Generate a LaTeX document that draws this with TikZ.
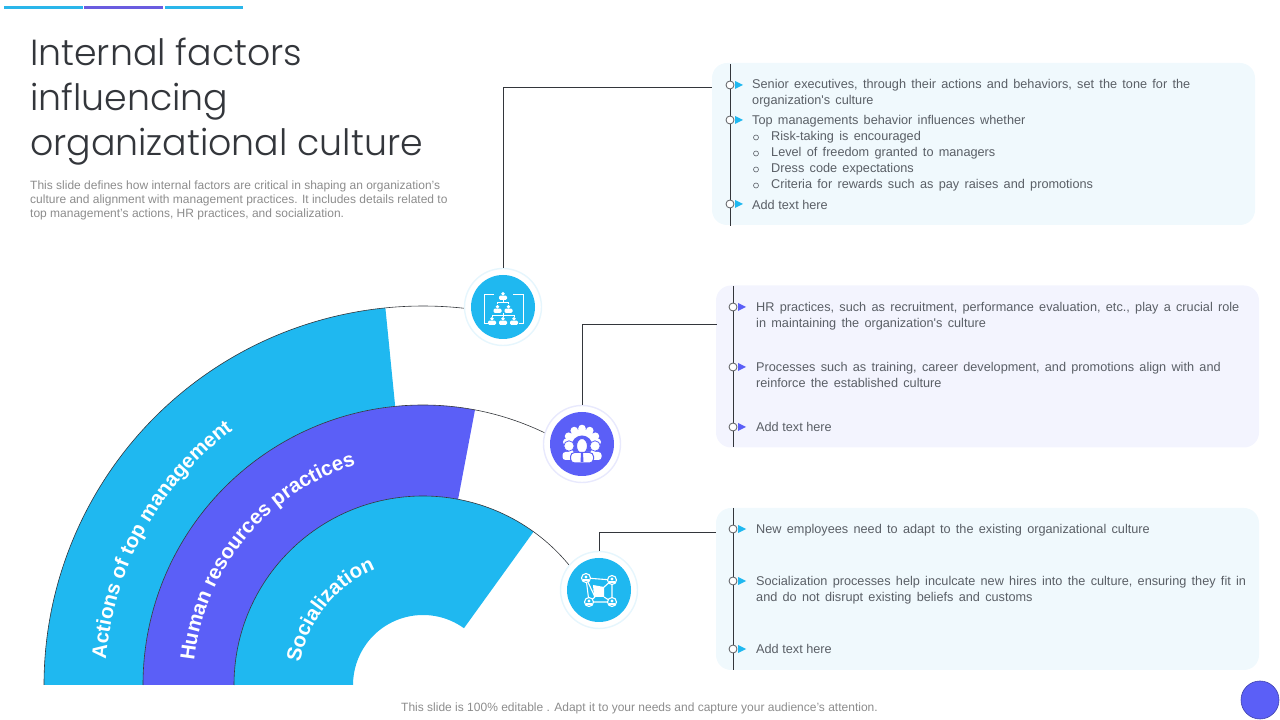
\documentclass[tikz,border=0pt]{standalone}
\usepackage{fontspec}
\setmainfont{Liberation Sans}
\newfontfamily\titlefont{Poppins Light}
\newfontfamily\bodyfont[WordSpace=1.5]{Liberation Sans}
\usetikzlibrary{decorations.text}
\definecolor{skyc}{HTML}{1FB8F0}
\definecolor{violc}{HTML}{5B5FF7}
\definecolor{stripA}{HTML}{2AB6EA}
\definecolor{stripB}{HTML}{6A5CE0}
\definecolor{panelA}{HTML}{F0F9FD}
\definecolor{panelB}{HTML}{F3F4FE}
\definecolor{haloA}{HTML}{E6F6FD}
\definecolor{haloB}{HTML}{E8E9FD}
\definecolor{inkc}{HTML}{33363B}
\definecolor{bodyc}{HTML}{5A5F66}
\definecolor{noteGrey}{HTML}{8C8C8C}
\tikzset{
  panel/.style={draw=none,rounded corners=15pt,inner sep=0pt,minimum height=162pt,minimum width=543pt},
  hub/.style={shape=circle,inner sep=0pt,minimum size=77pt,draw=#1,line width=1.4pt,fill=white},
  disc/.style={shape=circle,inner sep=0pt,minimum size=64pt,fill=#1},
  wire/.style={draw=inkc,line width=0.8pt},
  rim/.style={draw=inkc,line width=0.6pt},
  txt/.style={anchor=west,inner sep=0pt,align=left,text=bodyc,font=\bodyfont\fontsize{12.7}{16}\selectfont},
  addtxt/.style={anchor=west,inner sep=0pt,text=bodyc,font=\fontsize{12.7}{16}\selectfont},
  ringtxt/.style={decorate,decoration={text along path,text align=center,
    text={|\fontsize{20.5}{21}\selectfont\bfseries\color{white}|#1}}},
}
% head and shoulders of one small person
\newcommand{\manicon}[3]{
  \fill[white] (#1,#2+#3*0.55) circle (#3*0.45);
  \fill[white,rounded corners=1.4pt] (#1-#3,#2-#3) rectangle (#1+#3,#2+#3*0.1);
}
\newcommand{\stopmark}[3]{
  \draw[inkc!80,fill=white,line width=0.8pt] (#1,#2) circle (4);
  \fill[#3] (#1+5,#2+4) -- (#1+13,#2) -- (#1+5,#2-4) -- cycle;
}
\begin{document}
\begin{tikzpicture}[x=1pt,y=1pt]
  \useasboundingbox (0,0) rectangle (1280,720);
  \coordinate (O) at (423,35);

  % strip on top
  \fill[stripA] (4,711) rectangle (83,714);
  \fill[stripB] (84,711) rectangle (163,714);
  \fill[stripA] (165,711) rectangle (243,714);

  \node[anchor=west,inner sep=0pt,text=inkc,font=\titlefont\fontsize{36.3}{45}\selectfont,align=left] (TITLE) at (30,618.5) {Internal factors\\influencing\\organizational culture};
  \node[anchor=north west,inner sep=0pt,text=noteGrey,align=left,font=\fontsize{12}{14}\selectfont] (NOTE) at (30,539) {This slide defines how internal factors are critical in shaping an organization's\\culture and alignment with management practices. It includes details related to\\top management's actions, HR practices, and socialization.};
  \node[inner sep=0pt,text=noteGrey,font=\fontsize{12}{14}\selectfont] (FOOT) at (639.5,12) {This slide is 100\% editable . Adapt it to your needs and capture your audience's attention.};
  \node[shape=circle,minimum size=38pt,inner sep=0pt,fill=violc,draw=violc!70!black,line width=0.6pt] (DOT) at (1260,20) {};

  % the three rings
  \begin{scope}[shift={(O)}]
    \fill[skyc] (180:379) arc[start angle=180,end angle=95.7,radius=379] -- (95.7:280) arc[start angle=95.7,end angle=180,radius=280] -- cycle;
    \fill[violc] (180:280) arc[start angle=180,end angle=79.3,radius=280] -- (79.3:189) arc[start angle=79.3,end angle=180,radius=189] -- cycle;
    \fill[skyc] (180:189) arc[start angle=180,end angle=54.2,radius=189] -- (54.2:70) arc[start angle=54.2,end angle=180,radius=70] -- cycle;
    \path[ringtxt={Actions of top management}] (181:318) arc[start angle=181,end angle=121,radius=318];
    \path[ringtxt={Human resources practices}] (178.5:230) arc[start angle=178.5,end angle=102.5,radius=230];
    \path[ringtxt={Socialization}] (179:125) arc[start angle=179,end angle=103,radius=125];
    \draw[rim] (180:379) arc[start angle=180,end angle=83.6,radius=379];
    \draw[rim] (180:280) arc[start angle=180,end angle=64,radius=280];
    \draw[rim] (180:189) arc[start angle=180,end angle=39.5,radius=189];
  \end{scope}

  % panels
  \node[panel,fill=panelA] (BOXA) at (983.5,576) {};
  \node[panel,fill=panelB] (BOXB) at (987.5,353.5) {};
  \node[panel,fill=panelA] (BOXC) at (987.5,131) {};
  \coordinate (JA) at (712,633);
  \coordinate (JB) at (717,396);
  \coordinate (JC) at (716,188);

  % hubs
  \node[hub=haloA] (HA) at (503,413) {};
  \node[hub=haloB] (HB) at (582,276) {};
  \node[hub=haloA] (HC) at (599,130) {};
  \node[disc=skyc] (DA) at (HA) {};
  \node[disc=violc] (DB) at (HB) {};
  \node[disc=skyc] (DC) at (HC) {};

  \path[wire] (HA.north) |- (JA);
  \path[wire] (HB.north) |- (JB);
  \path[wire] (HC.north) |- (JC);

  % icon A
  \begin{scope}[shift={(HA)}]
    \manicon{0}{11}{4}
    \manicon{-5.5}{-2}{4}
    \manicon{5.5}{-2}{4}
    \manicon{-11}{-14}{4}
    \manicon{0}{-14}{4}
    \manicon{11}{-14}{4}
    \draw[white,line width=0.8pt] (0,7) -- (0,4.5) (-5.5,4.5) -- (5.5,4.5) (-5.5,4.5) -- (-5.5,2.5) (5.5,4.5) -- (5.5,2.5);
    \draw[white,line width=0.8pt] (0,-6) -- (0,-8) (-11,-8) -- (11,-8) (-11,-8) -- (-11,-10) (11,-8) -- (11,-10) (0,-8) -- (0,-10);
    \draw[white,line width=1pt] (-9,12) -- (-19,12) -- (-19,-17) -- (-15,-17);
    \draw[white,line width=1pt] (10,12) -- (20,12) -- (20,-17) -- (16,-17);
  \end{scope}
  % icon B
  \begin{scope}[shift={(HB)}]
    \fill[white] (0,0) circle (15);
    \foreach \aa in {30,60,...,150}{
      \fill[white] (\aa:15.5) circle (3.8);
    }
    \fill[white] (-15.5,2) circle (3.5);
    \fill[white] (15.5,2) circle (3.5);
    \fill[violc] (0,-2) circle (10.5);
    \draw[violc,fill=white,line width=0.8pt] (-13,-2) circle (5.2);
    \draw[violc,fill=white,line width=0.8pt] (13,-2) circle (5.2);
    \fill[white,rounded corners=3pt] (-19.5,-16) rectangle (19.5,-8);
    \draw[violc,fill=white,line width=1pt] (0,-2) ellipse (5.5 and 7.5);
    \draw[violc,fill=white,line width=1pt,rounded corners=4pt] (-11.5,-19) rectangle (11.5,-8.5);
    \fill[violc] (-1,-9) -- (1,-9) -- (1.5,-18) -- (-1.5,-18) -- cycle;
  \end{scope}
  % icon C
  \begin{scope}[shift={(HC)}]
    \draw[white,line width=1.1pt] (-13,12) -- (13,10) -- (13,-12) -- (-10,-12) -- cycle;
    \draw[white,line width=1.1pt] (-13,12) -- (-4,-7) (13,10) -- (4,2) (-10,-12) -- (-4,-7) (13,-12) -- (5,-7);
    \fill[white] (-6,5) -- (5,3) -- (5,-7) -- (-5,-7) -- cycle;
    \foreach \xa/\ya in {-13/12,13/10,-10/-12,13/-12}{
      \draw[white,fill=skyc,line width=1.1pt] (\xa,\ya) circle (4.5);
      \fill[white] (\xa,\ya+1) circle (1.6);
      \fill[white] (\xa-2.6,\ya-3) rectangle (\xa+2.6,\ya-0.8);
    }
  \end{scope}

  % panel A
  \draw[wire] (730,656) -- (730,494);
  \foreach \yy in {635,600,516}{
    \stopmark{730}{\yy}{skyc}
  }
  \node[txt] (a1) at (752,626.5) {Senior executives, through their actions and behaviors, set the tone for the\\organization's culture};
  \node[txt] (a2) at (752,598.5) {Top managements behavior influences whether};
  \foreach \yy/\nm/\lab in {582.5/s1/Risk-taking is encouraged,566.5/s2/Level of freedom granted to managers,550.5/s3/Dress code expectations,534.5/s4/Criteria for rewards such as pay raises and promotions}{
    \draw[bodyc,line width=0.6pt] (756,\yy) circle (2.5);
    \node[txt] (\nm) at (771,\yy) {\lab};
  }
  \node[addtxt] (a3) at (752,515.5) {Add text here};

  % panel B
  \draw[wire] (733,434) -- (733,273);
  \foreach \yy in {413,353,293}{
    \stopmark{733}{\yy}{violc}
  }
  \node[txt] (b1) at (756,403.5) {HR practices, such as recruitment, performance evaluation, etc., play a crucial role\\in maintaining the organization's culture};
  \node[txt] (b2) at (756,345.5) {Processes such as training, career development, and promotions align with and\\reinforce the established culture};
  \node[addtxt] (b3) at (756,293.5) {Add text here};

  % panel C
  \draw[wire] (733,212) -- (733,50);
  \foreach \yy in {191,139,71}{
    \stopmark{733}{\yy}{skyc}
  }
  \node[txt] (c1) at (756,189.5) {New employees need to adapt to the existing organizational culture};
  \node[txt] (c2) at (756,129.5) {Socialization processes help inculcate new hires into the culture, ensuring they fit in\\and do not disrupt existing beliefs and customs};
  \node[addtxt] (c3) at (756,71.5) {Add text here};
\end{tikzpicture}
\end{document}
